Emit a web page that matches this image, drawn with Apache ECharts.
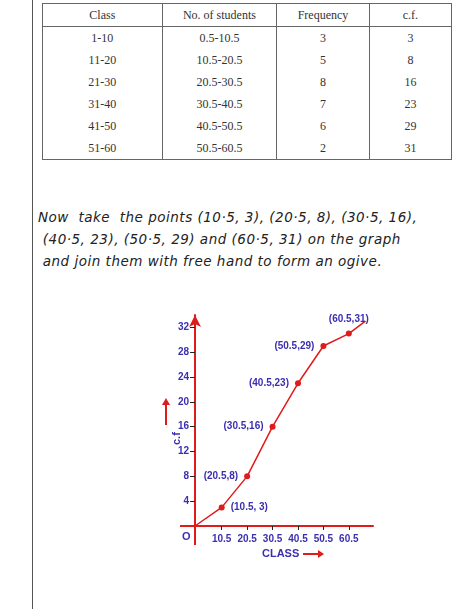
<!DOCTYPE html>
<html><head><meta charset="utf-8">
<script src="https://cdn.jsdelivr.net/npm/echarts@6/dist/echarts.min.js"></script>
<style>
body{margin:0;width:474px;height:609px;background:#fff;position:relative;overflow:hidden;font-family:"Liberation Serif",serif}
#vline{position:absolute;left:32px;top:0;width:1px;height:609px;background:#555}
table{position:absolute;left:42px;top:3px;width:410px;border-collapse:collapse;font-size:12px;color:#333}
td,th{border-left:1px solid #666;border-right:1px solid #666;text-align:center;font-weight:normal;height:22px;padding:0}
th{border-bottom:1px solid #666;border-top:1px solid #666;height:22px}
tr:last-child td{border-bottom:1px solid #666}
#hand{position:absolute;left:38px;top:206px;font-family:"DejaVu Sans";font-style:italic;font-size:13.5px;color:#222;line-height:22px;letter-spacing:0.5px}
#c{position:absolute;left:0;top:0;width:474px;height:609px}
</style></head><body>
<div id="vline"></div>
<table id="t"></table>
<div id="hand">Now &nbsp;take &nbsp;the points (10·5, 3), (20·5, 8), (30·5, 16),<br>&nbsp;(40·5, 23), (50·5, 29) and (60·5, 31) on the graph<br>&nbsp;and join them with free hand to form an ogive.</div>
<div id="c"></div>
<script>
const headers=["Class","No. of students","Frequency","c.f."];
const classes=["1-10","11-20","21-30","31-40","41-50","51-60"];
const boundaries=["0.5-10.5","10.5-20.5","20.5-30.5","30.5-40.5","40.5-50.5","50.5-60.5"];
const frequency=[3,5,8,7,6,2];
const cf=[3,8,16,23,29,31];
const upperLimits=[10.5,20.5,30.5,40.5,50.5,60.5];
const yTicks=[4,8,12,16,20,24,28,32];
const labelPos=["right","left","left","left","left","top"];

const t=document.getElementById('t');
let h='<tr>'+headers.map((x,i)=>'<th style="width:'+[88,84,68,60][i]+'px">'+x+'</th>').join('')+'</tr>';
classes.forEach((c,i)=>{h+='<tr><td>'+c+'</td><td>'+boundaries[i]+'</td><td>'+frequency[i]+'</td><td>'+cf[i]+'</td></tr>';});
t.innerHTML=h;

const blue='#3b2fb0', red='#e01b1b';
const chart=echarts.init(document.getElementById('c'));
chart.setOption({
 animation:false,
 grid:{left:195,right:101,top:315,bottom:83},
 xAxis:{type:'value',min:0,max:70,splitLine:{show:false},
  axisLine:{lineStyle:{color:red,width:2}},
  axisTick:{customValues:upperLimits,length:4,lineStyle:{color:'#222'}},
  axisLabel:{customValues:upperLimits,color:blue,fontWeight:'bold',fontSize:10,fontFamily:'Arial',margin:8}},
 yAxis:{type:'value',min:0,max:34,splitLine:{show:false},
  axisLine:{symbol:['none','arrow'],symbolSize:[9,12],lineStyle:{color:red,width:2}},
  axisTick:{customValues:yTicks,length:5,lineStyle:{color:'#222'}},
  axisLabel:{customValues:yTicks,color:blue,fontWeight:'bold',fontSize:10,fontFamily:'Arial',margin:6}},
 graphic:[
  {type:'line',shape:{x1:180,y1:526,x2:195,y2:526},style:{stroke:red,lineWidth:2}},
  {type:'line',shape:{x1:195,y1:526,x2:195,y2:545},style:{stroke:red,lineWidth:2}},
  {type:'text',left:182,top:531,style:{text:'O',fill:blue,font:'bold 11px Arial'}},
  {type:'text',left:262,top:548,style:{text:'CLASS',fill:blue,font:'bold 11px Arial'}},
  {type:'line',shape:{x1:303,y1:554,x2:318,y2:554},style:{stroke:red,lineWidth:2}},
  {type:'polygon',shape:{points:[[318,550],[324,554],[318,558]]},style:{fill:red}},
  {type:'text',x:171,y:445,rotation:Math.PI/2,style:{text:'c.f',fill:blue,font:'bold 11px Arial'}},
  {type:'line',shape:{x1:166,y1:425,x2:166,y2:405},style:{stroke:red,lineWidth:2}},
  {type:'polygon',shape:{points:[[162,405],[166,398],[170,405]]},style:{fill:red}}
 ],
 series:[{type:'line',
  data:[[0,0]].concat(upperLimits.map((x,i)=>({value:[x,cf[i]],symbol:'circle',symbolSize:6,
   label:{show:true,position:labelPos[i],distance:6,formatter:'('+x+(i==0?', ':',')+cf[i]+')',color:blue,fontWeight:'bold',fontSize:10,fontFamily:'Arial'}}))).concat([[67,33]]),
  showSymbol:true,symbol:'none',lineStyle:{color:red,width:1.5},itemStyle:{color:red}}]
});
</script>
</body></html>
